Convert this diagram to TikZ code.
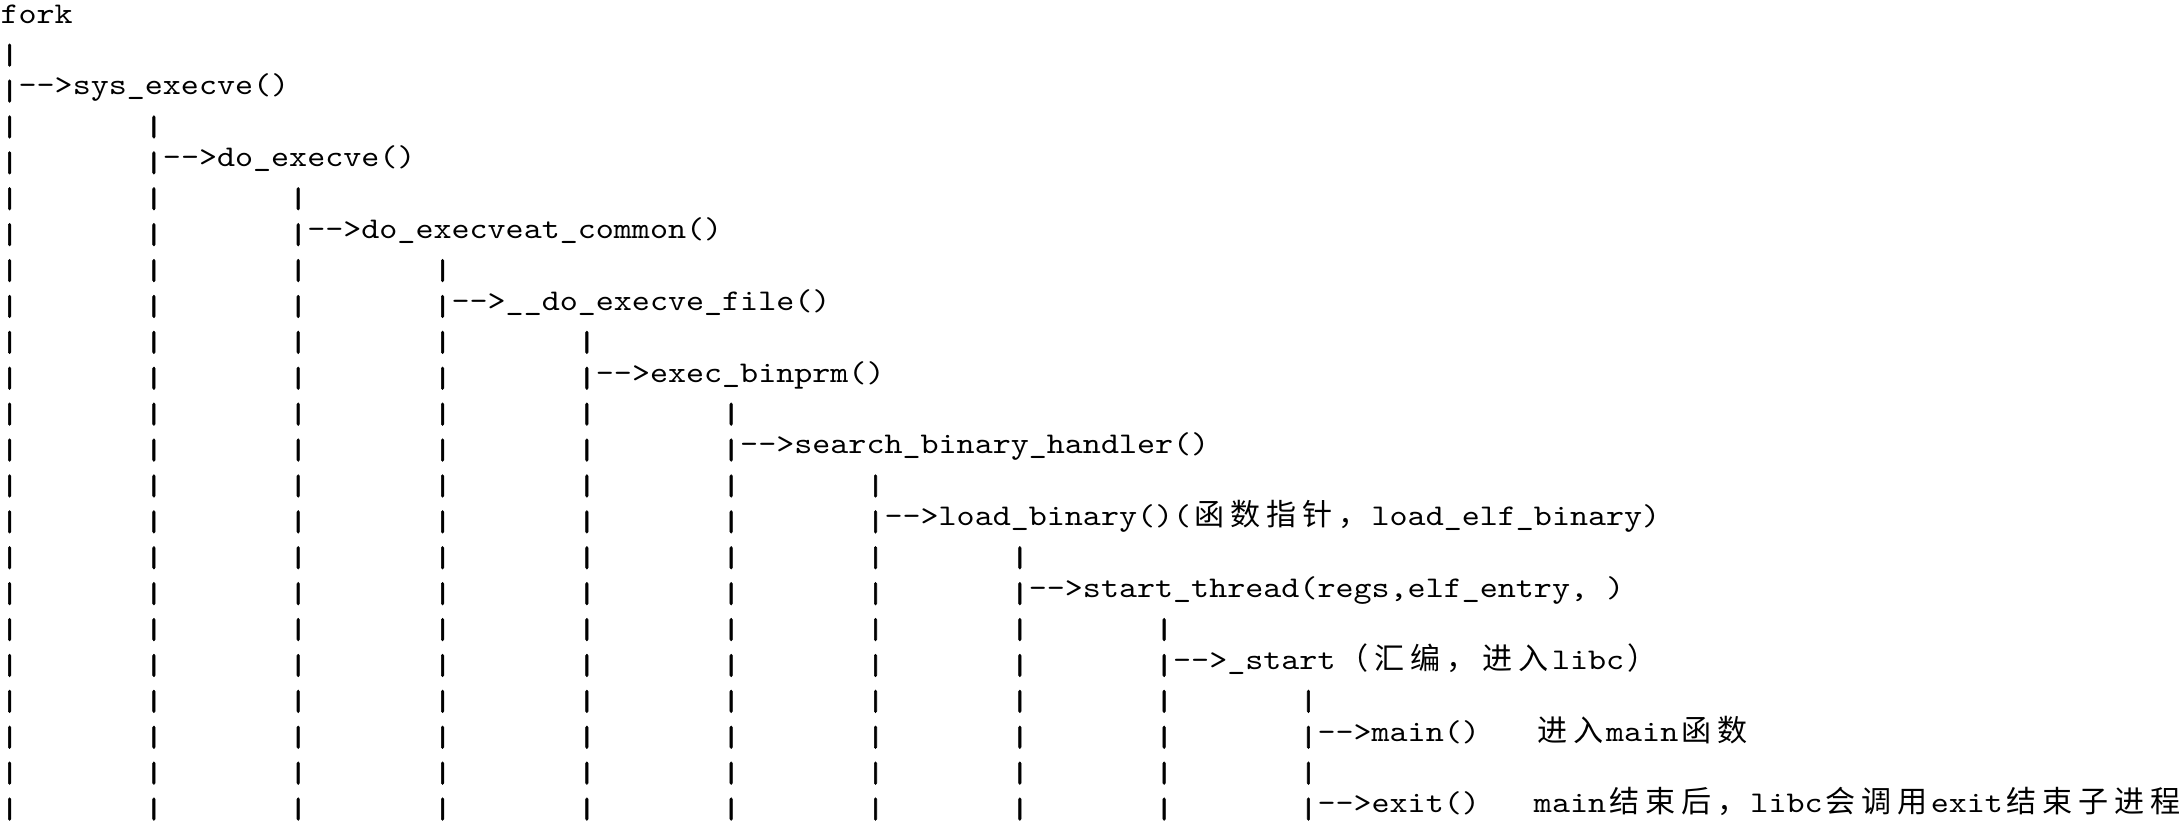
\documentclass[tikz,border=0pt]{standalone}
\usepackage{fontspec}
\usepackage{graphicx}
\newfontfamily\mono{lmmono10-regular.otf}[FakeStretch=1.1431]
\newfontfamily\barfont{lmmono10-regular.otf}[FakeStretch=1.1431,FakeBold=2]
\newfontfamily\cjk{Noto Sans CJK SC}
\newlength\cw \setlength\cw{9.02pt}
\newcommand\vb{\makebox[\cw][c]{\raisebox{-3.75pt}{\resizebox*{\width}{11.25pt}{\raisebox{\depth}{\barfont|}}}}}
\newcommand\T{\makebox[8\cw][l]{\vb}}
\newcommand\SP{\hspace*{\cw}}
\newcommand\arr{\makebox[3\cw][l]{-{}-{}>}}
\makeatletter
\newcommand\CJ[1]{\@tfor\cj@c:=#1\do{\makebox[2\cw][c]{\cjk\cj@c}}}
\makeatother
\tikzset{row/.style={anchor=base west, inner sep=0pt, outer sep=0pt,
  font=\mono\fontsize{15.03pt}{18pt}\selectfont, text=black}}
\begin{document}
\begin{tikzpicture}
\fill[white] (0,0) rectangle (1092pt,-416pt);
\useasboundingbox (0,0) rectangle (1092pt,-416pt);
\node[row] (r0)  at (0.3pt,-11.5pt)   {fork};
\node[row] (r1)  at (0.3pt,-29.45pt)  {\vb};
\node[row] (r2)  at (0.3pt,-47.4pt)   {\vb\arr sys\_execve()};
\node[row] (r3)  at (0.3pt,-65.35pt)  {\T\vb};
\node[row] (r4)  at (0.3pt,-83.3pt)   {\T\vb\arr do\_execve()};
\node[row] (r5)  at (0.3pt,-101.25pt) {\T\T\vb};
\node[row] (r6)  at (0.3pt,-119.2pt)  {\T\T\vb\arr do\_execveat\_common()};
\node[row] (r7)  at (0.3pt,-137.15pt) {\T\T\T\vb};
\node[row] (r8)  at (0.3pt,-155.1pt)  {\T\T\T\vb\arr\_\_do\_execve\_file()};
\node[row] (r9)  at (0.3pt,-173.05pt) {\T\T\T\T\vb};
\node[row] (r10) at (0.3pt,-191.0pt)  {\T\T\T\T\vb\arr exec\_binprm()};
\node[row] (r11) at (0.3pt,-208.95pt) {\T\T\T\T\T\vb};
\node[row] (r12) at (0.3pt,-226.9pt)  {\T\T\T\T\T\vb\arr search\_binary\_handler()};
\node[row] (r13) at (0.3pt,-244.85pt) {\T\T\T\T\T\T\vb};
\node[row] (r14) at (0.3pt,-262.8pt)  {\T\T\T\T\T\T\vb\arr load\_binary()(\CJ{函数指针，}load\_elf\_binary)};
\node[row] (r15) at (0.3pt,-280.75pt) {\T\T\T\T\T\T\T\vb};
\node[row] (r16) at (0.3pt,-298.7pt)  {\T\T\T\T\T\T\T\vb\arr start\_thread(regs,elf\_entry,\SP)};
\node[row] (r17) at (0.3pt,-316.65pt) {\T\T\T\T\T\T\T\T\vb};
\node[row] (r18) at (0.3pt,-334.6pt)  {\T\T\T\T\T\T\T\T\vb\arr\_start\CJ{（汇编，进入}libc\CJ{）}};
\node[row] (r19) at (0.3pt,-352.55pt) {\T\T\T\T\T\T\T\T\T\vb};
\node[row] (r20) at (0.3pt,-370.5pt)  {\T\T\T\T\T\T\T\T\T\vb\arr main()\SP\SP\SP\CJ{进入}main\CJ{函数}};
\node[row] (r21) at (0.3pt,-388.45pt) {\T\T\T\T\T\T\T\T\T\vb};
\node[row] (r22) at (0.3pt,-406.4pt)  {\T\T\T\T\T\T\T\T\T\vb\arr exit()\SP\SP\SP main\CJ{结束后，}libc\CJ{会调用}exit\CJ{结束子进程}};
\end{tikzpicture}
\end{document}
